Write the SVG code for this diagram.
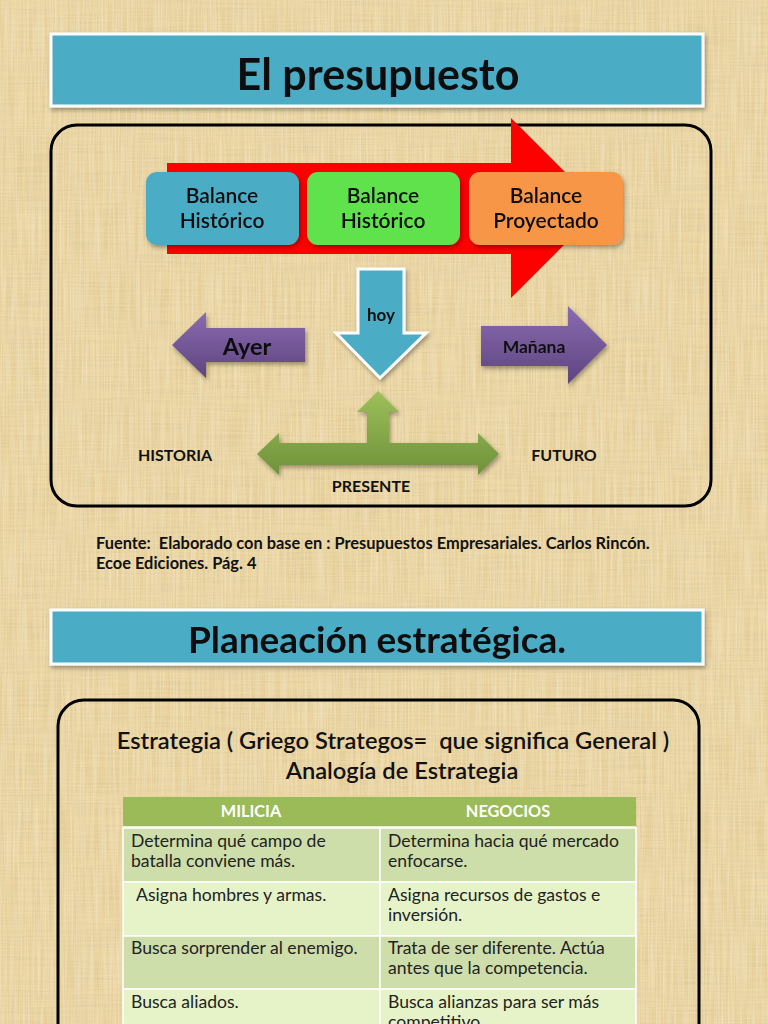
<svg xmlns="http://www.w3.org/2000/svg" width="768" height="1024" viewBox="0 0 768 1024">
  <defs>
    <filter id="tex" x="0" y="0" width="100%" height="100%">
      <feTurbulence type="fractalNoise" baseFrequency="0.015 0.6" numOctaves="2" seed="3" result="n1"/>
      <feColorMatrix in="n1" type="matrix" values="0 0 0 0 0.55  0 0 0 0 0.45  0 0 0 0 0.25  0 0 0 -1.1 0.75" result="a"/>
      <feTurbulence type="fractalNoise" baseFrequency="0.6 0.015" numOctaves="2" seed="7" result="n2"/>
      <feColorMatrix in="n2" type="matrix" values="0 0 0 0 1  0 0 0 0 0.97  0 0 0 0 0.85  0 0 0 -1.2 0.8" result="b"/>
      <feMerge><feMergeNode in="a"/><feMergeNode in="b"/></feMerge>
    </filter>
    <filter id="sh" x="-10%" y="-10%" width="130%" height="140%">
      <feDropShadow dx="1.5" dy="2.5" stdDeviation="2" flood-color="#000" flood-opacity="0.35"/>
    </filter>
    <linearGradient id="purp" x1="0" y1="0" x2="0" y2="1">
      <stop offset="0" stop-color="#8A6BB0"/>
      <stop offset="1" stop-color="#5E4480"/>
    </linearGradient>
    <linearGradient id="grn" gradientUnits="userSpaceOnUse" x1="0" y1="391" x2="0" y2="475">
      <stop offset="0" stop-color="#9DC05A"/>
      <stop offset="1" stop-color="#6F913A"/>
    </linearGradient>
    <style>
      .t { font-family: Lato, "Open Sans", "Liberation Sans", sans-serif; fill: #111; }
      .b { font-weight: bold; }
      .c { text-anchor: middle; }
      .bar { fill: #4BACC6; stroke: #fff; stroke-width: 3; }
      .frame { fill: none; stroke: #000; stroke-width: 3; }
      .cell { font-family: Lato, "Open Sans", "Liberation Sans", sans-serif; font-size: 17.6px; fill: #222; }
      .dark { fill: #CEDEAA; stroke: #fff; stroke-width: 1.5; }
      .light { fill: #E6F3C8; stroke: #fff; stroke-width: 1.5; }
      .lbl { font-size: 16px; }
    </style>
  </defs>

  <rect x="0" y="0" width="768" height="1024" fill="#EAD39E"/>
  <rect x="0" y="0" width="768" height="1024" filter="url(#tex)" opacity="0.5"/>

  <g id="title1" filter="url(#sh)">
    <rect class="bar" x="51" y="34" width="652" height="72"/>
    <text class="t b c" x="378" y="90" font-size="43">El presupuesto</text>
  </g>

  <g id="frame1">
    <rect class="frame" x="51" y="125" width="660" height="381" rx="26"/>
  </g>

  <g id="redArrow">
    <polygon points="167,163 511,163 511,118 601,208 511,298 511,254 167,254" fill="#FF0000"/>
  </g>

  <g id="balance1" filter="url(#sh)">
    <rect x="146" y="172" width="153" height="73" rx="11" fill="#4BACC6"/>
    <text class="t c" x="222" y="203" font-size="21" font-weight="600">Balance</text>
    <text class="t c" x="222" y="228" font-size="21" font-weight="600">Histórico</text>
  </g>
  <g id="balance2" filter="url(#sh)">
    <rect x="307" y="172" width="153" height="73" rx="11" fill="#5FE24B"/>
    <text class="t c" x="383" y="203" font-size="21" font-weight="600">Balance</text>
    <text class="t c" x="383" y="228" font-size="21" font-weight="600">Histórico</text>
  </g>
  <g id="balance3" filter="url(#sh)">
    <rect x="469" y="172" width="154" height="73" rx="11" fill="#F79646"/>
    <text class="t c" x="546" y="203" font-size="21" font-weight="600">Balance</text>
    <text class="t c" x="546" y="228" font-size="21" font-weight="600">Proyectado</text>
  </g>

  <g id="hoy" filter="url(#sh)">
    <polygon points="358,269 404,269 404,333 426,333 380,378 336,333 358,333" fill="#4BACC6" stroke="#fff" stroke-width="3"/>
    <text class="t b c" x="381" y="321" font-size="17">hoy</text>
  </g>

  <g id="ayer" filter="url(#sh)">
    <polygon points="172,345 206,312 206,328 305,328 305,362 206,362 206,378" fill="url(#purp)"/>
    <text class="t b c" x="247" y="355" font-size="23.5">Ayer</text>
  </g>

  <g id="manana" filter="url(#sh)">
    <polygon points="481,326 568,326 568,306 607,345 568,384 568,366 481,366" fill="url(#purp)"/>
    <text class="t b c" x="534" y="353" font-size="17.5">Mañana</text>
  </g>

  <g id="presenteArrow" filter="url(#sh)">
    <polygon points="378,391 399,412 389,412 389,443 478,443 478,433 499,454 478,475 478,465 279,465 279,475 257,454 279,433 279,443 367,443 367,412 357,412" fill="url(#grn)"/>
  </g>

  <g id="labels">
    <text class="t b c lbl" x="175" y="461">HISTORIA</text>
    <text class="t b c lbl" x="564" y="461">FUTURO</text>
    <text class="t b c lbl" x="371" y="492">PRESENTE</text>
  </g>

  <g id="fuente">
    <text class="t b" x="96" y="549" font-size="16.4" xml:space="preserve">Fuente:  Elaborado con base en : Presupuestos Empresariales. Carlos Rincón.</text>
    <text class="t b" x="96" y="569" font-size="16.4">Ecoe Ediciones. Pág. 4</text>
  </g>

  <g id="title2" filter="url(#sh)">
    <rect class="bar" x="51" y="610" width="652" height="54"/>
    <text class="t b c" x="377" y="653" font-size="37">Planeación estratégica.</text>
  </g>

  <g id="frame2">
    <path class="frame" d="M58,1030 V726 A26,26 0 0 1 84,700 H673 A26,26 0 0 1 699,726 V1030"/>
  </g>

  <g id="subtitle">
    <text class="t c" x="393" y="749" font-size="23.7" font-weight="600" xml:space="preserve">Estrategia ( Griego Strategos=  que significa General )</text>
    <text class="t c" x="402" y="779" font-size="23.7" font-weight="600">Analogía de Estrategia</text>
  </g>

  <g id="table">
    <rect x="123" y="797" width="513" height="30" fill="#9BBB59"/>
    <line x1="123" y1="827.5" x2="636" y2="827.5" stroke="#fff" stroke-width="2.5"/>
    <text class="t b c" x="251" y="817" font-size="16.3" style="fill:#fff">MILICIA</text>
    <text class="t b c" x="508" y="817" font-size="16.3" style="fill:#fff">NEGOCIOS</text>

    <rect class="dark" x="123" y="828" width="257" height="54"/>
    <rect class="dark" x="380" y="828" width="256" height="54"/>
    <rect class="light" x="123" y="882" width="257" height="54"/>
    <rect class="light" x="380" y="882" width="256" height="54"/>
    <rect class="dark" x="123" y="936" width="257" height="53"/>
    <rect class="dark" x="380" y="936" width="256" height="53"/>
    <rect class="light" x="123" y="989" width="257" height="40"/>
    <rect class="light" x="380" y="989" width="256" height="40"/>

    <text class="cell" x="131" y="847">Determina qué campo de</text>
    <text class="cell" x="131" y="867">batalla conviene más.</text>
    <text class="cell" x="388" y="847">Determina hacia qué mercado</text>
    <text class="cell" x="388" y="867">enfocarse.</text>

    <text class="cell" x="136" y="901">Asigna hombres y armas.</text>
    <text class="cell" x="388" y="901">Asigna recursos de gastos e</text>
    <text class="cell" x="388" y="921">inversión.</text>

    <text class="cell" x="131" y="954">Busca sorprender al enemigo.</text>
    <text class="cell" x="388" y="954">Trata de ser diferente. Actúa</text>
    <text class="cell" x="388" y="974">antes que la competencia.</text>

    <text class="cell" x="131" y="1008">Busca aliados.</text>
    <text class="cell" x="388" y="1008">Busca alianzas para ser más</text>
    <text class="cell" x="388" y="1028">competitivo.</text>
  </g>
</svg>
